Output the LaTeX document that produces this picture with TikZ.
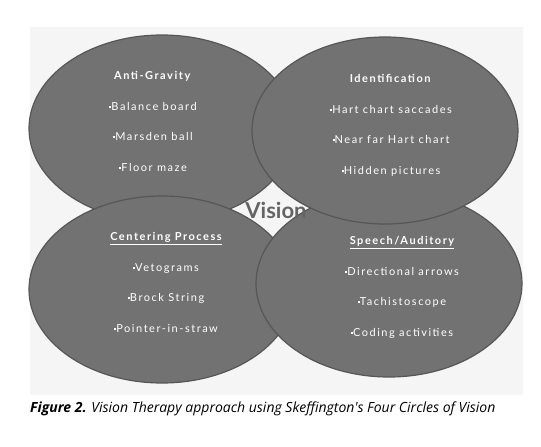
\documentclass[tikz,border=0pt]{standalone}
\usepackage{fontspec}
\setmainfont{Lato}
\newfontfamily\circlefont[LetterSpace=14]{Lato}
\newfontfamily\capfont{Open Sans}
\usetikzlibrary{shapes.geometric}
\definecolor{circlegray}{RGB}{114,114,114}
\definecolor{rimgray}{RGB}{86,86,86}
\definecolor{panelgray}{RGB}{245,245,245}
\definecolor{visiongray}{RGB}{100,100,100}
\newcommand{\sqb}{\raisebox{2.2pt}{\rule{2.2pt}{2.2pt}}}

\begin{document}
\begin{tikzpicture}[x=1pt, y=-1pt]
\tikzstyle{every node} = [inner sep = 0pt]
\tikzstyle{circ} = [ellipse, fill = circlegray, draw = rimgray, line width = 1.2pt, minimum width = 266pt, minimum height = 187pt]
\tikzstyle{items} = [text = white, align = center, anchor = base, font = \circlefont\fontsize{11}{30.5}\selectfont]

\useasboundingbox (0,0) rectangle (541,447);
\fill[panelgray] (30,27) rectangle (523,395);

% four circles, drawn bottom to top
\node[circ] (ag) at (162,128.5) {};
\node[circ] (cp) at (162,289.5) {};
\node[circ] (sa) at (389,283.5) {};
\node[circ] (id) at (385,130.5) {};

\node[text = visiongray, font = \bfseries\fontsize{22}{22}\selectfont] (vision) at (276,210) {Vision};

% text blocks sit on the base of their last line
\node[items] (ag text) at (153,171) {\textbf{Anti-Gravity}\\ \sqb Balance board\\ \sqb Marsden ball\\ \sqb Floor maze};
\node[items] (id text) at (391,174) {\textbf{Identification}\\ \sqb Hart chart saccades\\ \sqb Near far Hart chart\\ \sqb Hidden pictures};
\node[items] (cp text) at (166,332) {\textbf{\underline{Centering Process}}\\ \sqb Vetograms\\ \sqb Brock String\\ \sqb Pointer-in-straw};
\node[items] (sa text) at (402,336) {\textbf{\underline{Speech/Auditory}}\\ \sqb Directional arrows\\ \sqb Tachistoscope\\ \sqb Coding activities};

\node[anchor = base west, font = \capfont\itshape\fontsize{14}{16}\selectfont] (caption) at (30,412) {\textbf{Figure 2.} Vision Therapy approach using Skeffington's Four Circles of Vision};
\end{tikzpicture}
\end{document}
